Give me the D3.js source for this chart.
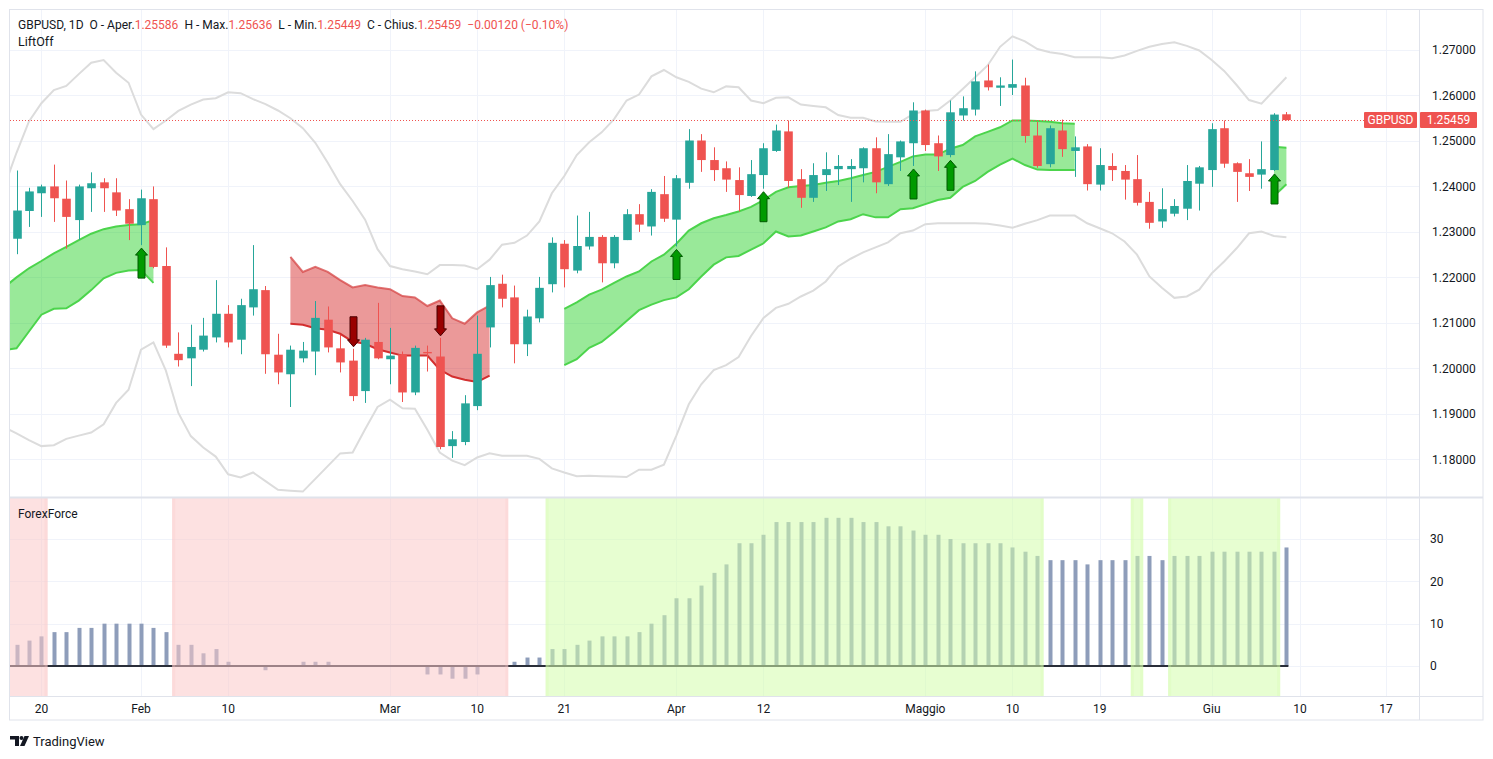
<!DOCTYPE html>
<html>
<head>
<meta charset="utf-8">
<script src="https://cdn.jsdelivr.net/npm/d3@7"></script>
<style>
  body { margin: 0; background: #fff; }
  #chart text { font-family: Roboto, "Noto Sans", sans-serif; }
</style>
</head>
<body>
<div id="chart"></div>
<script>
// trading days shown (GBPUSD daily, 2023)
const dates = [
  "01-18","01-19","01-20","01-23","01-24","01-25","01-26","01-27","01-30","01-31",
  "02-01","02-02","02-03","02-06","02-07","02-08","02-09","02-10","02-13","02-14",
  "02-15","02-16","02-17","02-20","02-21","02-22","02-23","02-24","02-27","02-28",
  "03-01","03-02","03-03","03-06","03-07","03-08","03-09","03-10","03-13","03-14",
  "03-15","03-16","03-17","03-20","03-21","03-22","03-23","03-24","03-27","03-28",
  "03-29","03-30","03-31","04-03","04-04","04-05","04-06","04-07","04-10","04-11",
  "04-12","04-13","04-14","04-17","04-18","04-19","04-20","04-21","04-24","04-25",
  "04-26","04-27","04-28","05-01","05-02","05-03","05-04","05-05","05-08","05-09",
  "05-10","05-11","05-12","05-15","05-16","05-17","05-18","05-19","05-22","05-23",
  "05-24","05-25","05-26","05-29","05-30","05-31","06-01","06-02","06-05","06-06",
  "06-07","06-08","06-09"
];

const opens = [
  1.2285,1.2346,1.2385,1.2400,1.2373,1.2326,1.2396,1.2409,1.2387,1.2350,
  1.2315,1.2372,1.2225,1.2032,1.2022,1.2041,1.2068,1.2120,1.2063,1.2134,
  1.2172,1.2030,1.1987,1.2022,1.2037,1.2107,1.2044,1.2017,1.1950,1.2058,
  1.2020,1.2031,1.1947,1.2036,1.2026,1.1829,1.1838,1.1917,1.2090,1.2186,
  1.2156,1.2053,1.2110,1.2185,1.2274,1.2215,1.2268,1.2289,1.2231,1.2282,
  1.2339,1.2312,1.2383,1.2327,1.2408,1.2501,1.2458,1.2440,1.2414,1.2379,
  1.2425,1.2478,1.2521,1.2416,1.2375,1.2425,1.2438,1.2438,1.2440,1.2484,
  1.2405,1.2464,1.2495,1.2567,1.2495,1.2469,1.2556,1.2569,1.2633,1.2617,
  1.2617,1.2622,1.2512,1.2449,1.2523,1.2478,1.2488,1.2404,1.2445,1.2434,
  1.2416,1.2366,1.2323,1.2340,1.2351,1.2406,1.2436,1.2528,1.2451,1.2429,
  1.2426,1.2436,1.25586
];
const highs = [
  1.2435,1.2397,1.2404,1.2448,1.2413,1.2404,1.2431,1.2418,1.2418,1.2372,
  1.2393,1.2400,1.2266,1.2079,1.2096,1.2111,1.2194,1.2139,1.2153,1.2271,
  1.2181,1.2076,1.2050,1.2058,1.2148,1.2136,1.2074,1.2043,1.2067,1.2144,
  1.2089,1.2037,1.2050,1.2050,1.2067,1.1862,1.1941,1.2116,1.2201,1.2206,
  1.2182,1.2129,1.2201,1.2288,1.2282,1.2336,1.2344,1.2293,1.2293,1.2350,
  1.2361,1.2394,1.2423,1.2425,1.2526,1.2515,1.2486,1.2455,1.2442,1.2458,
  1.2495,1.2536,1.2545,1.2438,1.2451,1.2475,1.2469,1.2460,1.2486,1.2508,
  1.2515,1.2501,1.2585,1.2569,1.2512,1.2589,1.2598,1.2653,1.2668,1.2640,
  1.2679,1.2639,1.2542,1.2534,1.2547,1.2510,1.2493,1.2484,1.2473,1.2447,
  1.2469,1.2388,1.2396,1.2372,1.2447,1.2445,1.2539,1.2545,1.2453,1.2460,
  1.2499,1.2561,1.25636
];
const lows = [
  1.2251,1.2311,1.2333,1.2322,1.2263,1.2283,1.2344,1.2344,1.2335,1.2282,
  1.2271,1.2220,1.2045,1.2004,1.1961,1.2037,1.2057,1.2046,1.2031,1.2116,
  1.1988,1.1965,1.1915,1.2013,1.1985,1.2035,1.1991,1.1928,1.1924,1.2020,
  1.1965,1.1926,1.1941,1.1993,1.1822,1.1803,1.1831,1.1908,1.2046,1.2134,
  1.2011,1.2027,1.2101,1.2167,1.2178,1.2209,1.2261,1.2189,1.2220,1.2282,
  1.2300,1.2292,1.2322,1.2268,1.2395,1.2432,1.2412,1.2388,1.2345,1.2377,
  1.2395,1.2476,1.2397,1.2353,1.2366,1.2390,1.2403,1.2366,1.2409,1.2385,
  1.2401,1.2434,1.2445,1.2478,1.2434,1.2464,1.2545,1.2556,1.2611,1.2577,
  1.2601,1.2496,1.2441,1.2442,1.2465,1.2421,1.2391,1.2391,1.2412,1.2371,
  1.2358,1.2307,1.2309,1.2334,1.2326,1.2347,1.2399,1.2441,1.2366,1.2390,
  1.2395,1.2434,1.25449
];
const closes = [
  1.2347,1.2389,1.2400,1.2374,1.2333,1.2400,1.2407,1.2396,1.2347,1.2318,
  1.2374,1.2223,1.2050,1.2018,1.2047,1.2072,1.2120,1.2057,1.2139,1.2174,
  1.2031,1.1991,1.2041,1.2039,1.2111,1.2046,1.2013,1.1939,1.2063,1.2022,
  1.2028,1.1947,1.2045,1.2033,1.1827,1.1844,1.1923,1.2032,1.2183,1.2153,
  1.2053,1.2114,1.2177,1.2276,1.2218,1.2269,1.2289,1.2231,1.2289,1.2339,
  1.2316,1.2388,1.2329,1.2418,1.2501,1.2458,1.2436,1.2415,1.2381,1.2427,
  1.2484,1.2523,1.2412,1.2375,1.2425,1.2438,1.2445,1.2445,1.2484,1.2409,
  1.2471,1.2499,1.2567,1.2491,1.2466,1.2563,1.2572,1.2631,1.2618,1.2622,
  1.2625,1.2511,1.2445,1.2528,1.2482,1.2486,1.2405,1.2447,1.2436,1.2415,
  1.2364,1.2320,1.2350,1.2357,1.2412,1.2442,1.2526,1.2450,1.2432,1.2421,
  1.2438,1.2558,1.25459
];

// Bollinger bands, first value sits one bar before the first candle
const bbUpper = [
  1.2398,
  1.2474,1.2543,1.2583,1.2612,1.2621,1.2647,1.2672,1.2678,1.2650,1.2628,
  1.2558,1.2526,1.2545,1.2566,1.2580,1.2591,1.2594,1.2607,1.2605,1.2592,
  1.2581,1.2567,1.2550,1.2528,1.2496,1.2452,1.2405,1.2368,1.2327,1.2262,
  1.2225,1.2218,1.2213,1.2207,1.2227,1.2227,1.2226,1.2218,1.2239,1.2272,
  1.2276,1.2292,1.2323,1.2385,1.2423,1.2469,1.2497,1.2519,1.2548,1.2589,
  1.2602,1.2642,1.2656,1.2640,1.2630,1.2615,1.2607,1.2620,1.2618,1.2589,
  1.2583,1.2595,1.2596,1.2580,1.2577,1.2574,1.2557,1.2551,1.2551,1.2543,
  1.2542,1.2542,1.2559,1.2566,1.2568,1.2589,1.2614,1.2640,1.2666,1.2707,
  1.2730,1.2719,1.2702,1.2695,1.2691,1.2684,1.2684,1.2684,1.2682,1.2688,
  1.2698,1.2707,1.2713,1.2717,1.2709,1.2699,1.2678,1.2654,1.2623,1.2590,
  1.2582,1.2611,1.2640
];
const bbLower = [
  1.1871,
  1.1857,1.1842,1.1829,1.1831,1.1845,1.1852,1.1859,1.1877,1.1924,1.1953,
  1.2041,1.2057,1.1995,1.1902,1.1851,1.1826,1.1806,1.1767,1.1760,1.1771,
  1.1752,1.1733,1.1731,1.1729,1.1757,1.1785,1.1813,1.1815,1.1866,1.1915,
  1.1931,1.1912,1.1911,1.1865,1.1815,1.1797,1.1787,1.1804,1.1813,1.1808,
  1.1808,1.1808,1.1801,1.1780,1.1771,1.1763,1.1764,1.1763,1.1762,1.1761,
  1.1777,1.1777,1.1788,1.1852,1.1921,1.1965,1.1996,1.2007,1.2025,1.2071,
  1.2111,1.2133,1.2142,1.2158,1.2171,1.2191,1.2224,1.2241,1.2255,1.2266,
  1.2277,1.2297,1.2303,1.2317,1.2319,1.2319,1.2319,1.2319,1.2318,1.2314,
  1.2309,1.2318,1.2326,1.2336,1.2336,1.2336,1.2319,1.2308,1.2297,1.2279,
  1.2250,1.2202,1.2177,1.2155,1.2158,1.2173,1.2209,1.2235,1.2264,1.2297,
  1.2301,1.2291,1.2288
];

// LiftOff channel, same alignment as the bands (null = not plotted)
const liftUpper = [
  1.2178,1.2200,1.2220,1.2236,1.2253,1.2267,1.2282,1.2296,1.2306,1.2312,1.2315,1.2317,1.2326,
  null,null,null,null,null,null,null,null,null,null,
  1.2245,1.2212,1.2223,1.2212,1.2194,1.2178,1.2183,1.2178,1.2174,1.2159,1.2156,1.2137,1.2149,1.2110,1.2098,1.2123,1.2138,
  null,null,null,null,null,
  1.2131,1.2145,1.2162,1.2173,1.2188,1.2202,1.2213,1.2235,1.2250,1.2274,
  1.2303,1.2319,1.2330,1.2337,1.2345,1.2355,1.2370,1.2388,1.2398,1.2401,
  1.2403,1.2408,1.2412,1.2418,1.2425,1.2432,1.2443,1.2454,1.2466,1.2470,
  1.2470,1.2483,1.2491,1.2510,1.2520,1.2530,1.2545,1.2545,1.2544,1.2542,
  1.2539,1.2538,
  null,null,null,null,null,null,null,null,null,null,null,null,null,null,null,
  1.2487,1.2485
];
const liftLower = [
  1.2040,1.2044,1.2081,1.2118,1.2131,1.2132,1.2149,1.2172,1.2198,1.2210,1.2215,1.2216,1.2188,
  null,null,null,null,null,null,null,null,null,null,
  1.2098,1.2096,1.2088,1.2085,1.2076,1.2059,1.2054,1.2042,1.2035,1.2028,1.2028,1.2028,1.1997,1.1982,1.1975,1.1970,1.1984,
  null,null,null,null,null,
  1.2007,1.2020,1.2045,1.2058,1.2080,1.2104,1.2128,1.2140,1.2150,1.2156,
  1.2174,1.2202,1.2228,1.2244,1.2247,1.2261,1.2275,1.2301,1.2290,1.2292,
  1.2301,1.2310,1.2323,1.2328,1.2339,1.2332,1.2332,1.2350,1.2352,1.2361,
  1.2370,1.2375,1.2399,1.2412,1.2432,1.2448,1.2461,1.2447,1.2437,1.2436,
  1.2436,1.2436,
  null,null,null,null,null,null,null,null,null,null,null,null,null,null,null,
  1.2379,1.2405
];
const liftSegments = [
  { dir: "up", from: -1, to: 11 },
  { dir: "down", from: 22, to: 38 },
  { dir: "up", from: 44, to: 85 },
  { dir: "up", from: 101, to: 102 }
];
const upArrows = [10, 53, 60, 72, 75, 101];
const downArrows = [27, 34];

// ForexForce histogram
const forceValues = [
  5,6,7,8,8,9,9,10,10,10,
  10,9,8,5,5,3,4,1,0,0,
  -1,0,0,1,1,1,0,0,0,0,
  0,0,0,-2,-2,-3,-3,-2,0,0,
  1,2,2,4,4,5,6,7,7,7,
  8,10,12,16,16,19,22,24,29,29,
  31,34,34,34,34,35,35,35,34,34,
  33,33,32,31,31,30,29,29,29,29,
  28,27,26,25,25,25,24,25,25,25,
  26,26,25,26,26,26,27,27,27,27,
  27,27,28
];
const pinkZones = [[-1, 2], [13, 39]];
const greenZones = [[43, 82], [90, 90], [93, 101]];

const priceTicks = [1.18, 1.19, 1.20, 1.21, 1.22, 1.23, 1.24, 1.25, 1.26, 1.27];
const forceTicks = [0, 10, 20, 30];
const timeTicks = [
  ["20", 2], ["Feb", 10], ["10", 17], ["Mar", 30], ["10", 37], ["21", 44],
  ["Apr", 53], ["12", 60], ["Maggio", 73], ["10", 80], ["19", 87], ["Giu", 96],
  ["10", 103.1], ["17", 110]
];
const lastPrice = 1.25459;

// layout
const W = 1493, H = 759;
const left = 10, plotRight = 1419, frameRight = 1483;
const mainTop = 10, mainBottom = 497, subTop = 498, subBottom = 696, axisBottom = 720;
const step = 12.45;

const UP = "#26a69a", DOWN = "#ef5350", TXT = "#131722", GRID = "#f0f3fa", BORDER = "#e0e3eb";

const x = d3.scaleLinear().domain([0, dates.length - 1]).range([16.5, 16.5 + (dates.length - 1) * step]);
const y = d3.scaleLinear().domain([1.27, 1.18]).range([50, 459.3]);
const ySub = d3.scaleLinear().domain([0, 30]).range([666, 539]);

const svg = d3.select("#chart").append("svg")
  .attr("width", W).attr("height", H)
  .style("display", "block");

const defs = svg.append("defs");
defs.append("clipPath").attr("id", "clipMain")
  .append("rect").attr("x", left).attr("y", mainTop).attr("width", plotRight - left).attr("height", mainBottom - mainTop);
defs.append("clipPath").attr("id", "clipSub")
  .append("rect").attr("x", left).attr("y", subTop).attr("width", plotRight - left).attr("height", subBottom - subTop);

// gridlines
const grid = svg.append("g");
grid.selectAll(".hg").data(priceTicks).enter().append("line")
  .attr("x1", left).attr("x2", plotRight)
  .attr("y1", d => Math.round(y(d)) + 0.5).attr("y2", d => Math.round(y(d)) + 0.5)
  .attr("stroke", GRID);
grid.selectAll(".sg").data(forceTicks).enter().append("line")
  .attr("x1", left).attr("x2", plotRight)
  .attr("y1", d => Math.round(ySub(d)) + 0.5).attr("y2", d => Math.round(ySub(d)) + 0.5)
  .attr("stroke", GRID);
grid.selectAll(".vg").data(timeTicks).enter().append("line")
  .attr("x1", d => Math.round(x(d[1])) + 0.5).attr("x2", d => Math.round(x(d[1])) + 0.5)
  .attr("y1", mainTop).attr("y2", subBottom)
  .attr("stroke", GRID);

// ---- main pane ----
const main = svg.append("g").attr("clip-path", "url(#clipMain)");
const bx = i => x(i - 1); // band arrays start one bar early

const bbLine = d3.line().x((d, i) => bx(i)).y(d => y(d));
main.append("path").datum(bbUpper).attr("d", bbLine)
  .attr("fill", "none").attr("stroke", "#dcdcdc").attr("stroke-width", 2);
main.append("path").datum(bbLower).attr("d", bbLine)
  .attr("fill", "none").attr("stroke", "#dcdcdc").attr("stroke-width", 2);

liftSegments.forEach(seg => {
  const idx = d3.range(seg.from, seg.to + 1);
  const up = seg.dir === "up";
  const area = d3.area().x(i => x(i)).y0(i => y(liftLower[i + 1])).y1(i => y(liftUpper[i + 1]));
  const line = acc => d3.line().x(i => x(i)).y(i => y(acc[i + 1]));
  main.append("path").datum(idx).attr("d", area)
    .attr("fill", up ? "rgba(0,200,0,0.4)" : "rgba(204,0,0,0.4)");
  main.append("path").datum(idx).attr("d", line(liftUpper))
    .attr("fill", "none").attr("stroke", up ? "#4cd44c" : "#d64545")
    .attr("stroke-width", 2).attr("stroke-opacity", up ? 1 : 0.75);
  main.append("path").datum(idx).attr("d", line(liftLower))
    .attr("fill", "none").attr("stroke", up ? "#4cd44c" : "#d32f2f")
    .attr("stroke-width", 2);
});

// candles
const candles = dates.map((d, i) => ({ i, o: opens[i], h: highs[i], l: lows[i], c: closes[i] }));
const bodyW = 8.6;
const cg = main.selectAll(".candle").data(candles).enter().append("g");
cg.append("line")
  .attr("x1", d => Math.round(x(d.i)) + 0.5).attr("x2", d => Math.round(x(d.i)) + 0.5)
  .attr("y1", d => y(d.h)).attr("y2", d => y(d.l))
  .attr("stroke", d => d.c >= d.o ? UP : DOWN).attr("stroke-width", 1);
cg.append("rect")
  .attr("x", d => Math.round(x(d.i)) + 0.5 - bodyW / 2)
  .attr("width", bodyW)
  .attr("y", d => y(Math.max(d.o, d.c)))
  .attr("height", d => Math.max(1, Math.abs(y(d.o) - y(d.c))))
  .attr("fill", d => d.c >= d.o ? UP : DOWN);

// arrows
const upPath = (cx, top) => `M${cx},${top} L${cx + 6},${top + 7} L${cx + 3.5},${top + 7} L${cx + 3.5},${top + 30} L${cx - 3.5},${top + 30} L${cx - 3.5},${top + 7} L${cx - 6},${top + 7} Z`;
const downPath = (cx, bot) => `M${cx},${bot} L${cx + 6},${bot - 7} L${cx + 3.5},${bot - 7} L${cx + 3.5},${bot - 30} L${cx - 3.5},${bot - 30} L${cx - 3.5},${bot - 7} L${cx - 6},${bot - 7} Z`;
main.selectAll(".ua").data(upArrows).enter().append("path")
  .attr("d", i => upPath(Math.round(x(i)) + 0.5, y(lows[i]) + 3))
  .attr("fill", "#009a00").attr("stroke", "#005a00").attr("stroke-width", 1);
main.selectAll(".da").data(downArrows).enter().append("path")
  .attr("d", i => downPath(Math.round(x(i)) + 0.5, y(highs[i]) - 2))
  .attr("fill", "#990000").attr("stroke", "#4a0000").attr("stroke-width", 1);

// last price line
const ly = Math.round(y(lastPrice)) + 0.5;
svg.append("line").attr("x1", left).attr("x2", 1364).attr("y1", ly).attr("y2", ly)
  .attr("stroke", DOWN).attr("stroke-dasharray", "1,2");

// ---- sub pane ----
const sub = svg.append("g").attr("clip-path", "url(#clipSub)");
sub.selectAll(".fb").data(forceValues.map((v, i) => ({ v, i })).filter(d => d.v !== 0)).enter().append("rect")
  .attr("x", d => Math.round(x(d.i)) - 1.5).attr("width", 4)
  .attr("y", d => Math.min(ySub(d.v), ySub(0)))
  .attr("height", d => Math.abs(ySub(d.v) - ySub(0)))
  .attr("fill", "#8e9dba");
sub.append("line").attr("x1", x(-1)).attr("x2", x(dates.length - 1) + 2)
  .attr("y1", ySub(0)).attr("y2", ySub(0))
  .attr("stroke", "#2a2e39").attr("stroke-width", 2);

const zoneRect = (zones, color) => {
  sub.selectAll(null).data(zones).enter().append("rect")
    .attr("x", d => x(d[0]) - step / 2).attr("width", d => x(d[1]) - x(d[0]) + step)
    .attr("y", subTop).attr("height", subBottom - subTop)
    .attr("fill", color).attr("fill-opacity", 0.55);
  // slightly darker seams at zone edges
  sub.selectAll(null).data(zones.flatMap(d => [x(d[0]) - step / 2, x(d[1]) + step / 2 - 3])).enter().append("rect")
    .attr("x", d => d).attr("width", 3)
    .attr("y", subTop).attr("height", subBottom - subTop)
    .attr("fill", color).attr("fill-opacity", 0.25);
};
zoneRect(pinkZones, "#fbc8c8");
zoneRect(greenZones, "#d3fdab");

// ---- frame & separators ----
svg.append("rect").attr("x", 9.5).attr("y", 9.5).attr("width", frameRight - 9.5).attr("height", axisBottom - 9.5)
  .attr("fill", "none").attr("stroke", BORDER);
svg.append("line").attr("x1", left).attr("x2", frameRight).attr("y1", mainBottom + 0.5).attr("y2", mainBottom + 0.5).attr("stroke", BORDER).attr("stroke-width", 2);
svg.append("line").attr("x1", left).attr("x2", frameRight).attr("y1", subBottom + 0.5).attr("y2", subBottom + 0.5).attr("stroke", BORDER);
svg.append("line").attr("x1", plotRight + 0.5).attr("x2", plotRight + 0.5).attr("y1", mainTop).attr("y2", axisBottom).attr("stroke", BORDER);

// axes labels
svg.selectAll(".pl").data(priceTicks).enter().append("text")
  .attr("x", 1432).attr("y", d => y(d)).attr("dy", "0.35em")
  .attr("font-size", 12).attr("fill", TXT)
  .text(d => d3.format(".5f")(d));
svg.selectAll(".fl").data(forceTicks).enter().append("text")
  .attr("x", 1430).attr("y", d => ySub(d)).attr("dy", "0.35em")
  .attr("font-size", 12).attr("fill", TXT)
  .text(d => d);
svg.selectAll(".tl").data(timeTicks).enter().append("text")
  .attr("x", d => x(d[1])).attr("y", 709).attr("dy", "0.35em")
  .attr("text-anchor", "middle").attr("font-size", 12).attr("fill", TXT)
  .text(d => d[0]);

// last price tags
const tagY = y(lastPrice) - 8;
svg.append("rect").attr("x", 1364).attr("y", tagY).attr("width", 53).attr("height", 16).attr("rx", 1).attr("fill", DOWN);
svg.append("text").attr("x", 1390.5).attr("y", y(lastPrice)).attr("dy", "0.35em").attr("text-anchor", "middle")
  .attr("font-size", 12).attr("fill", "#fff").text("GBPUSD");
svg.append("rect").attr("x", 1420).attr("y", tagY).attr("width", 57).attr("height", 16).attr("rx", 1).attr("fill", DOWN);
svg.append("text").attr("x", 1448.5).attr("y", y(lastPrice)).attr("dy", "0.35em").attr("text-anchor", "middle")
  .attr("font-size", 12).attr("fill", "#fff").text(d3.format(".5f")(lastPrice));

// legend
const head = svg.append("text").attr("x", 18).attr("y", 28.5).attr("font-size", 13).attr("fill", TXT);
const gap = 6;
const parts = [
  ["GBPUSD, 1D", TXT, 0], ["O - Aper.", TXT, gap], ["1.25586", DOWN, 0],
  ["H - Max.", TXT, gap], ["1.25636", DOWN, 0], ["L - Min.", TXT, gap], ["1.25449", DOWN, 0],
  ["C - Chius.", TXT, gap], ["1.25459", DOWN, 0], ["\u22120.00120 (\u22120.10%)", DOWN, gap]
];
parts.forEach(p => head.append("tspan").attr("dx", p[2]).attr("fill", p[1]).text(p[0]));
// fit the legend line to the width it has in the original (x 18 .. 569)
const gaps = 5 * gap;
const headW = head.node().getBBox().width;
head.attr("font-size", 13 * (551 - gaps) / (headW - gaps));
svg.append("text").attr("x", 18).attr("y", 45.5).attr("font-size", 12.5).attr("fill", TXT).text("LiftOff");
svg.append("text").attr("x", 18).attr("y", 518).attr("font-size", 12).attr("fill", TXT).text("ForexForce");

// footer logo
const logo = svg.append("g").attr("fill", TXT);
logo.append("path").attr("d", "M10,736 h9 v10 h-4 v-6.5 h-5 Z");
logo.append("circle").attr("cx", 21.5).attr("cy", 738).attr("r", 2);
logo.append("path").attr("d", "M24.5,736 h4.5 l-4.5,10 h-4.5 Z");
svg.append("text").attr("x", 33).attr("y", 745.5).attr("font-size", 13).attr("fill", TXT).text("TradingView");
</script>
</body>
</html>
